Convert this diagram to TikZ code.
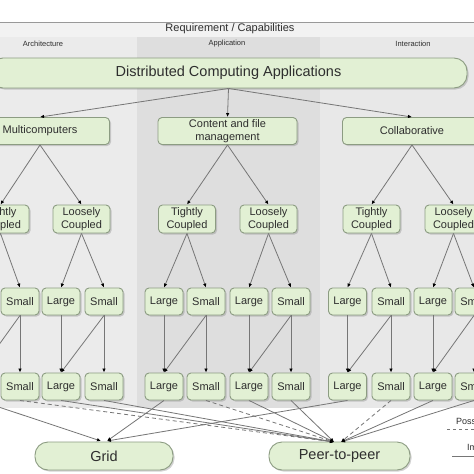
\documentclass[tikz,border=0pt]{standalone}
\usepackage{fontspec}
\setmainfont{Liberation Sans}
\usetikzlibrary{shadows,arrows.meta}
\definecolor{boxfill}{HTML}{E2F0D4}
\definecolor{boxline}{HTML}{8C9C82}
\definecolor{linkgray}{HTML}{767676}
\definecolor{txt}{HTML}{2E2E2E}
\definecolor{colA}{HTML}{EBEBEB}
\definecolor{colB}{HTML}{DEDEDE}
\definecolor{colC}{HTML}{E8E8E8}
\tikzset{
  box/.style={draw=boxline, fill=boxfill, rounded corners=4pt, line width=0.9pt,
    text=txt, font=\fontsize{11}{13}\selectfont, align=center, inner sep=1pt,
    drop shadow={shadow xshift=1.5pt, shadow yshift=-1.5pt, opacity=0.35, fill=gray}},
  bigbox/.style={box, rounded corners=13pt, font=\fontsize{14.5}{17}\selectfont},
  small/.style={box, minimum width=38pt, minimum height=27pt},
  couple/.style={box, minimum width=57pt, minimum height=28pt},
  link/.style={draw=linkgray, line width=0.8pt, -{Latex[length=4pt,width=3.5pt,color=black]}},
  maybe/.style={link, dashed, dash pattern=on 4pt off 3pt},
  head/.style={text=txt, inner sep=1pt}
}
\begin{document}
\begin{tikzpicture}[x=1pt,y=-1pt]
  \useasboundingbox (0,0) rectangle (474,474);
  \clip (0,0) rectangle (474,474);
  \fill[white] (0,0) rectangle (474,474);

  % background bands
  \fill[black!5] (0,22) rectangle (474,37);
  \draw[black!40, line width=0.8pt] (0,22) -- (474,22);
  \fill[colA] (0,37) rectangle (137,408);
  \fill[colB] (137,37) rectangle (320,408);
  \fill[colC] (320,37) rectangle (474,408);

  \node[head, font=\fontsize{11}{13}\selectfont] (R) at (230,29) {Requirement / Capabilities};
  \node[head, font=\fontsize{7.5}{9}\selectfont] (H1) at (43,44) {Architecture};
  \node[head, font=\fontsize{7.5}{9}\selectfont] (H2) at (227,44) {Application};
  \node[head, font=\fontsize{7.5}{9}\selectfont] (H3) at (413,44) {Interaction};

  % top
  \node[bigbox, minimum width=477pt, minimum height=30pt] (A) at (228.5,73) {Distributed Computing Applications};

  % architectures
  \node[box, minimum width=139pt, minimum height=27pt] (B1) at (40,131) {Multicomputers};
  \node[box, minimum width=139pt, minimum height=27pt] (B2) at (227.5,131) {Content and file\\management};
  \node[box, minimum width=139pt, minimum height=27pt] (B3) at (412,131) {Collaborative};

  % coupling
  \node[couple] (C1) at (0.5,219) {Tightly\\Coupled};
  \node[couple] (C2) at (81.5,219) {Loosely\\Coupled};
  \node[couple] (C3) at (187,219) {Tightly\\Coupled};
  \node[couple] (C4) at (268.5,219) {Loosely\\Coupled};
  \node[couple] (C5) at (371.5,219) {Tightly\\Coupled};
  \node[couple] (C6) at (453.5,219) {Loosely\\Coupled};

  % first size row
  \node[small] (D1) at (-21,301.5) {Large};
  \node[small] (D2) at (20,301.5) {Small};
  \node[small] (D3) at (61,301.5) {Large};
  \node[small] (D4) at (104,301.5) {Small};
  \node[small] (D5) at (164,301.5) {Large};
  \node[small] (D6) at (206,301.5) {Small};
  \node[small] (D7) at (249,301.5) {Large};
  \node[small] (D8) at (291,301.5) {Small};
  \node[small] (D9) at (347.5,301.5) {Large};
  \node[small] (D10) at (391,301.5) {Small};
  \node[small] (D11) at (433,301.5) {Large};
  \node[small] (D12) at (474,301.5) {Small};

  % second size row
  \node[small] (E1) at (-21,386.5) {Large};
  \node[small] (E2) at (20,386.5) {Small};
  \node[small] (E3) at (61,386.5) {Large};
  \node[small] (E4) at (104,386.5) {Small};
  \node[small] (E5) at (164,386.5) {Large};
  \node[small] (E6) at (206,386.5) {Small};
  \node[small] (E7) at (249,386.5) {Large};
  \node[small] (E8) at (291,386.5) {Small};
  \node[small] (E9) at (347.5,386.5) {Large};
  \node[small] (E10) at (391,386.5) {Small};
  \node[small] (E11) at (433,386.5) {Large};
  \node[small] (E12) at (474,386.5) {Small};

  % systems
  \node[bigbox, minimum width=138pt, minimum height=28pt] (F1) at (104,456) {Grid};
  \node[bigbox, minimum width=141pt, minimum height=28pt] (F2) at (339.5,456) {Peer-to-peer};
  \coordinate (g1) at (101,441);
  \coordinate (g2) at (107,441);
  \coordinate (p1) at (334,442);
  \coordinate (p2) at (341,442);

  % legend
  \node[head, anchor=west, font=\fontsize{9}{11}\selectfont] (L1) at (455,421) {Possible};
  \coordinate (l1a) at (447,429);
  \coordinate (l1b) at (490,429);
  \draw[linkgray, line width=0.8pt, dashed] (l1a) -- (l1b);
  \node[head, anchor=west, font=\fontsize{9}{11}\selectfont] (L2) at (466,448) {Implemented};
  \coordinate (l2a) at (452,456);
  \coordinate (l2b) at (490,456);
  \draw[linkgray, line width=0.8pt] (l2a) -- (l2b);

  \draw[link] (A.south) to (B1.north);
  \draw[link] (A.south) to (B2.north);
  \draw[link] (A.south) to (B3.north);

  \draw[link] (B1.south) to (C1.north);
  \draw[link] (B1.south) to (C2.north);
  \draw[link] (B2.south) to (C3.north);
  \draw[link] (B2.south) to (C4.north);
  \draw[link] (B3.south) to (C5.north);
  \draw[link] (B3.south) to (C6.north);

  \draw[link] (C1.south) to (D1.north);
  \draw[link] (C1.south) to (D2.north);
  \draw[link] (C2.south) to (D3.north);
  \draw[link] (C2.south) to (D4.north);
  \draw[link] (C3.south) to (D5.north);
  \draw[link] (C3.south) to (D6.north);
  \draw[link] (C4.south) to (D7.north);
  \draw[link] (C4.south) to (D8.north);
  \draw[link] (C5.south) to (D9.north);
  \draw[link] (C5.south) to (D10.north);
  \draw[link] (C6.south) to (D11.north);
  \draw[link] (C6.south) to (D12.north);

  \draw[link] (D1.south) to (E1.north);
  \draw[link] (D2.south) to (E2.north);
  \draw[link] (D2.south) to (E1.north);
  \draw[link] (D3.south) to (E3.north);
  \draw[link] (D4.south) to (E4.north);
  \draw[link] (D4.south) to (E3.north);
  \draw[link] (D5.south) to (E5.north);
  \draw[link] (D6.south) to (E6.north);
  \draw[link] (D6.south) to (E5.north);
  \draw[link] (D7.south) to (E7.north);
  \draw[link] (D8.south) to (E8.north);
  \draw[link] (D8.south) to (E7.north);
  \draw[link] (D9.south) to (E9.north);
  \draw[link] (D10.south) to (E10.north);
  \draw[link] (D10.south) to (E9.north);
  \draw[link] (D11.south) to (E11.north);
  \draw[link] (D12.south) to (E12.north);
  \draw[link] (D12.south) to (E11.north);

  \draw[link] (E1.south) to (g1);
  \draw[maybe] (E2.south) to (p1);
  \draw[link] (E3.south) to (p1);
  \draw[link] (E4.south) to (p1);
  \draw[link] (E5.south) to (g2);
  \draw[maybe] (E6.south) to (p1);
  \draw[link] (E7.south) to (p1);
  \draw[link] (E8.south) to (p1);
  \draw[link] (E9.south) to (g2);
  \draw[maybe] (E10.south) to (p2);
  \draw[link] (E11.south) to (p2);
  \draw[link] (E12.south) to (p2);
\end{tikzpicture}
\end{document}
